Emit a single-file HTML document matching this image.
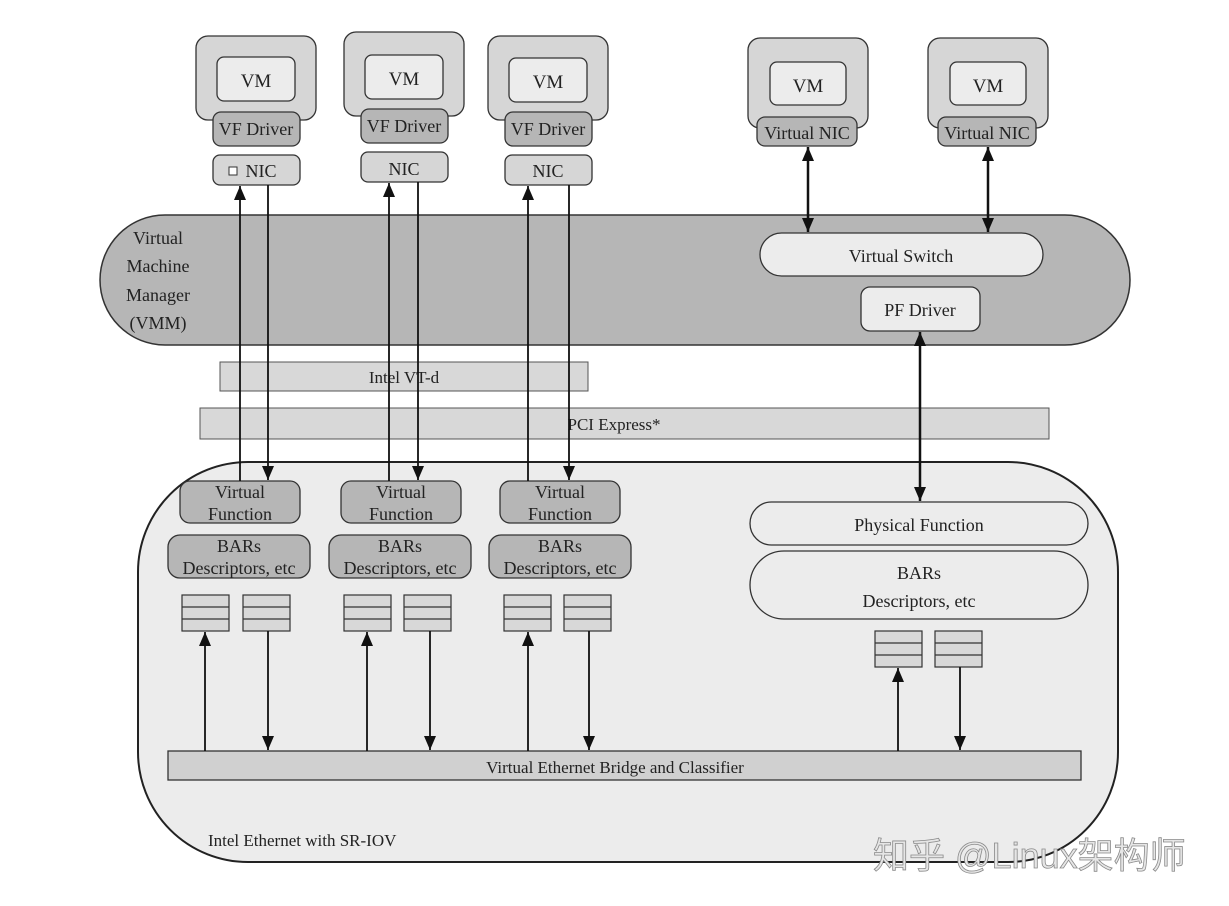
<!DOCTYPE html>
<html><head><meta charset="utf-8"><style>
html,body{margin:0;padding:0;background:#fff;}
svg{display:block;}
text{font-family:"Liberation Serif",serif;fill:#222;}
</style></head><body>
<svg width="1229" height="906" viewBox="0 0 1229 906" xmlns="http://www.w3.org/2000/svg">
<defs>
<marker id="au" markerWidth="12" markerHeight="14" refX="6" refY="0" orient="0" markerUnits="userSpaceOnUse" viewBox="0 0 12 14">
<path d="M6,0 L12,14 L0,14 Z" fill="#111"/></marker>
<marker id="ad" markerWidth="12" markerHeight="14" refX="6" refY="14" orient="0" markerUnits="userSpaceOnUse" viewBox="0 0 12 14">
<path d="M0,0 L12,0 L6,14 Z" fill="#111"/></marker>
</defs>

<rect x="138" y="462" width="980" height="400" rx="110" fill="#ececec" stroke="#222" stroke-width="2"/>

<rect x="100" y="215" width="1030" height="130" rx="65" fill="#b6b6b6" stroke="#333" stroke-width="1.5"/>
<g font-size="18" text-anchor="middle">
<text x="158" y="244">Virtual</text>
<text x="158" y="272">Machine</text>
<text x="158" y="301">Manager</text>
<text x="158" y="329">(VMM)</text>
</g>

<rect x="220" y="362" width="368" height="29" fill="#d8d8d8" stroke="#555"/>
<text x="404" y="383" font-size="17" text-anchor="middle">Intel VT-d</text>
<rect x="200" y="408" width="849" height="31" fill="#d8d8d8" stroke="#555"/>
<text x="614" y="430" font-size="17" text-anchor="middle">PCI Express*</text>

<g stroke="#333" stroke-width="1.3">
<rect x="196" y="36" width="120" height="84" rx="12" fill="#d6d6d6"/>
<rect x="217" y="57" width="78" height="44" rx="7" fill="#ececec"/>
<rect x="213" y="112" width="87" height="34" rx="8" fill="#b6b6b6"/>
<rect x="213" y="155" width="87" height="30" rx="7" fill="#d6d6d6"/>

<rect x="344" y="32" width="120" height="84" rx="12" fill="#d6d6d6"/>
<rect x="365" y="55" width="78" height="44" rx="7" fill="#ececec"/>
<rect x="361" y="109" width="87" height="34" rx="8" fill="#b6b6b6"/>
<rect x="361" y="152" width="87" height="30" rx="7" fill="#d6d6d6"/>

<rect x="488" y="36" width="120" height="84" rx="12" fill="#d6d6d6"/>
<rect x="509" y="58" width="78" height="44" rx="7" fill="#ececec"/>
<rect x="505" y="112" width="87" height="34" rx="8" fill="#b6b6b6"/>
<rect x="505" y="155" width="87" height="30" rx="7" fill="#d6d6d6"/>

<rect x="748" y="38" width="120" height="90" rx="12" fill="#d6d6d6"/>
<rect x="770" y="62" width="76" height="43" rx="7" fill="#ececec"/>
<rect x="757" y="117" width="100" height="29" rx="8" fill="#b6b6b6"/>
<rect x="928" y="38" width="120" height="90" rx="12" fill="#d6d6d6"/>
<rect x="950" y="62" width="76" height="43" rx="7" fill="#ececec"/>
<rect x="938" y="117" width="98" height="29" rx="8" fill="#b6b6b6"/>

<rect x="760" y="233" width="283" height="43" rx="21.5" fill="#ececec"/>
<rect x="861" y="287" width="119" height="44" rx="9" fill="#ececec"/>

<rect x="180" y="481" width="120" height="42" rx="10" fill="#b6b6b6"/>
<rect x="341" y="481" width="120" height="42" rx="10" fill="#b6b6b6"/>
<rect x="500" y="481" width="120" height="42" rx="10" fill="#b6b6b6"/>
<rect x="168" y="535" width="142" height="43" rx="12" fill="#b6b6b6"/>
<rect x="329" y="535" width="142" height="43" rx="12" fill="#b6b6b6"/>
<rect x="489" y="535" width="142" height="43" rx="12" fill="#b6b6b6"/>

<rect x="750" y="502" width="338" height="43" rx="21.5" fill="#ececec"/>
<rect x="750" y="551" width="338" height="68" rx="34" fill="#ececec"/>

<rect x="168" y="751" width="913" height="29" fill="#d0d0d0"/>
</g>

<g font-size="19" text-anchor="middle">
<text x="256" y="87">VM</text><text x="404" y="85">VM</text><text x="548" y="88">VM</text>
<text x="808" y="92">VM</text><text x="988" y="92">VM</text>
</g>
<g font-size="18" text-anchor="middle">
<text x="256" y="135">VF Driver</text><text x="404" y="132">VF Driver</text><text x="548" y="135">VF Driver</text>
<text x="261" y="177">NIC</text><text x="404" y="175">NIC</text><text x="548" y="177">NIC</text>
<text x="807" y="139">Virtual NIC</text><text x="987" y="139">Virtual NIC</text>
<text x="901" y="262">Virtual Switch</text>
<text x="920" y="316">PF Driver</text>
<text x="240" y="498">Virtual</text><text x="240" y="520">Function</text>
<text x="401" y="498">Virtual</text><text x="401" y="520">Function</text>
<text x="560" y="498">Virtual</text><text x="560" y="520">Function</text>
<text x="239" y="552">BARs</text><text x="239" y="574">Descriptors, etc</text>
<text x="400" y="552">BARs</text><text x="400" y="574">Descriptors, etc</text>
<text x="560" y="552">BARs</text><text x="560" y="574">Descriptors, etc</text>
<text x="919" y="531">Physical Function</text>
<text x="919" y="579">BARs</text>
<text x="919" y="607">Descriptors, etc</text>
<text x="615" y="773" font-size="17">Virtual Ethernet Bridge and Classifier</text>
</g>
<rect x="229" y="167" width="8" height="8" fill="#fff" stroke="#333"/>
<text x="208" y="846" font-size="17">Intel Ethernet with SR-IOV</text>

<g fill="#d8d8d8" stroke="#333" stroke-width="1.2">
<g id="q"><rect x="0" y="0" width="47" height="36"/><line x1="0" y1="12" x2="47" y2="12"/><line x1="0" y1="24" x2="47" y2="24"/></g>
</g>
<g fill="#d8d8d8" stroke="#333" stroke-width="1.2">
<use href="#q" x="182" y="595"/><use href="#q" x="243" y="595"/>
<use href="#q" x="344" y="595"/><use href="#q" x="404" y="595"/>
<use href="#q" x="504" y="595"/><use href="#q" x="564" y="595"/>
<use href="#q" x="875" y="631"/><use href="#q" x="935" y="631"/>
</g>
<rect x="0" y="0" width="48" height="37" fill="#fff"/>

<g stroke="#111" stroke-width="1.8" fill="none">
<line x1="240" y1="481" x2="240" y2="186" marker-end="url(#au)"/>
<line x1="268" y1="185" x2="268" y2="480" marker-end="url(#ad)"/>
<line x1="389" y1="481" x2="389" y2="183" marker-end="url(#au)"/>
<line x1="418" y1="182" x2="418" y2="480" marker-end="url(#ad)"/>
<line x1="528" y1="481" x2="528" y2="186" marker-end="url(#au)"/>
<line x1="569" y1="185" x2="569" y2="480" marker-end="url(#ad)"/>

<line x1="205" y1="751" x2="205" y2="632" marker-end="url(#au)"/>
<line x1="268" y1="631" x2="268" y2="750" marker-end="url(#ad)"/>
<line x1="367" y1="751" x2="367" y2="632" marker-end="url(#au)"/>
<line x1="430" y1="631" x2="430" y2="750" marker-end="url(#ad)"/>
<line x1="528" y1="751" x2="528" y2="632" marker-end="url(#au)"/>
<line x1="589" y1="631" x2="589" y2="750" marker-end="url(#ad)"/>
<line x1="898" y1="751" x2="898" y2="668" marker-end="url(#au)"/>
<line x1="960" y1="667" x2="960" y2="750" marker-end="url(#ad)"/>

<line x1="808" y1="147" x2="808" y2="232" stroke-width="2.5" marker-start="url(#au)" marker-end="url(#ad)"/>
<line x1="988" y1="147" x2="988" y2="232" stroke-width="2.5" marker-start="url(#au)" marker-end="url(#ad)"/>
<line x1="920" y1="332" x2="920" y2="501" stroke-width="2.5" marker-start="url(#au)" marker-end="url(#ad)"/>
</g>

<text x="873" y="868" font-size="36" style="font-family:'Liberation Sans','Noto Sans CJK SC',sans-serif;fill:#e6e6e6;stroke:#8a8a8a;stroke-width:0.8">知乎 @Linux架构师</text>
</svg>
</body></html>
